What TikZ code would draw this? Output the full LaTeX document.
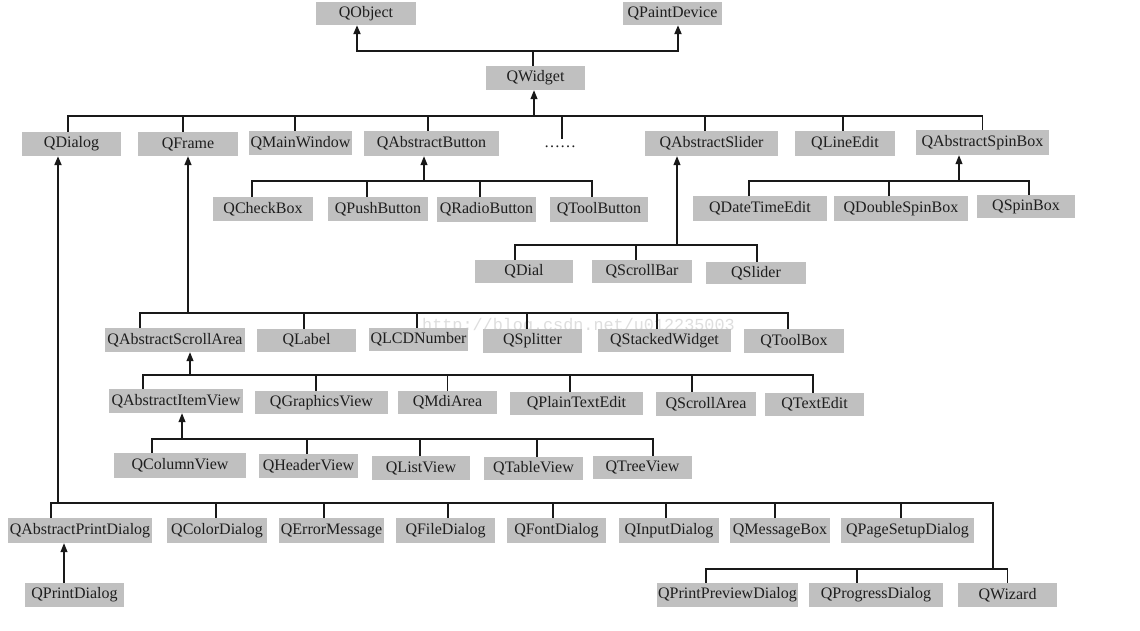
\documentclass[tikz,border=0pt]{standalone}
\usepackage{fontspec}
\setmainfont{Liberation Serif}
\newfontfamily\wmfont{Liberation Mono}
\usetikzlibrary{arrows.meta}
\definecolor{boxgray}{RGB}{192,192,192}
\definecolor{txt}{RGB}{30,30,30}
\definecolor{wmcol}{RGB}{222,222,222}
\definecolor{lnk}{RGB}{25,25,25}
\tikzset{
  qb/.style={fill=boxgray, inner sep=0pt, text=txt, font=\fontsize{16}{19}\selectfont},
  dotsn/.style={inner sep=0pt, text=txt, font=\fontsize{16}{19}\selectfont},
  link/.style={line width=1.1pt, draw=lnk},
  thk/.style={line width=2pt},
  arr/.style={link, -{Triangle[length=9pt,width=7pt]}},
}
\newcommand\qbox[6]{\node[qb, minimum width={#4-#2}, minimum height={#5-#3}] (#1) at ({(#2+#4)/2},{(#3+#5)/2}) {#6};}
\newcommand\leg[3]{\draw[link] ([xshift=#2]#1.north) |- (#3);}
\begin{document}
\begin{tikzpicture}[x=1pt,y=-1pt]
\fill[white] (0,0) rectangle (1140,630);
\useasboundingbox (0,0) rectangle (1140,630);
% watermark
\node[font=\wmfont\fontsize{16.8}{18}\selectfont, text=wmcol, anchor=base west, inner sep=0pt] (wm) at (422,330) {http://blog.csdn.net/u012235003};
% row 0
\qbox{QObject}{316}{2}{416}{25}{QObject}
\qbox{QPaintDevice}{623}{2}{722}{25}{QPaintDevice}
\qbox{QWidget}{486}{66}{585}{90}{QWidget}
% row 1
\qbox{QDialog}{22}{132}{121}{156}{QDialog}
\qbox{QFrame}{138}{132}{238}{156}{QFrame}
\qbox{QMainWindow}{249}{131}{352}{155}{QMainWindow}
\qbox{QAbstractButton}{364}{131}{499}{156}{QAbstractButton}
\node[dotsn, minimum height=16] (dots) at (560,147) {……};
\qbox{QAbstractSlider}{645}{131}{778}{156}{QAbstractSlider}
\qbox{QLineEdit}{795}{131}{895}{156}{QLineEdit}
\qbox{QAbstractSpinBox}{916}{130}{1049}{155}{QAbstractSpinBox}
% row 2
\qbox{QCheckBox}{213}{197}{313}{221}{QCheckBox}
\qbox{QPushButton}{328}{197}{428}{221}{QPushButton}
\qbox{QRadioButton}{437}{197}{536}{222}{QRadioButton}
\qbox{QToolButton}{550}{197}{648}{222}{QToolButton}
\qbox{QDateTimeEdit}{693}{196}{827}{221}{QDateTimeEdit}
\qbox{QDoubleSpinBox}{834}{196}{968}{221}{QDoubleSpinBox}
\qbox{QSpinBox}{977}{195}{1075}{218}{QSpinBox}
% row 3
\qbox{QDial}{475}{260}{573}{283}{QDial}
\qbox{QScrollBar}{592}{260}{692}{283}{QScrollBar}
\qbox{QSlider}{706}{262}{806}{284}{QSlider}
% row 4
\qbox{QAbstractScrollArea}{105}{328}{245}{352}{QAbstractScrollArea}
\qbox{QLabel}{257}{329}{356}{352}{QLabel}
\qbox{QLCDNumber}{369}{328}{468}{351}{QLCDNumber}
\qbox{QSplitter}{483}{329}{582}{353}{QSplitter}
\qbox{QStackedWidget}{598}{329}{731}{352}{QStackedWidget}
\qbox{QToolBox}{744}{329}{844}{353}{QToolBox}
% row 5
\qbox{QAbstractItemView}{109}{389}{243}{413}{QAbstractItemView}
\qbox{QGraphicsView}{255}{391}{388}{414}{QGraphicsView}
\qbox{QMdiArea}{398}{391}{497}{414}{QMdiArea}
\qbox{QPlainTextEdit}{510}{392}{643}{415}{QPlainTextEdit}
\qbox{QScrollArea}{656}{392}{756}{416}{QScrollArea}
\qbox{QTextEdit}{765}{393}{864}{416}{QTextEdit}
% row 6
\qbox{QColumnView}{114}{453}{246}{478}{QColumnView}
\qbox{QHeaderView}{259}{454}{358}{478}{QHeaderView}
\qbox{QListView}{372}{456}{470}{480}{QListView}
\qbox{QTableView}{484}{457}{583}{480}{QTableView}
\qbox{QTreeView}{593}{456}{692}{479}{QTreeView}
% row 7
\qbox{QAbstractPrintDialog}{8}{518}{152}{543}{QAbstractPrintDialog}
\qbox{QColorDialog}{167}{518}{267}{543}{QColorDialog}
\qbox{QErrorMessage}{279}{518}{384}{543}{QErrorMessage}
\qbox{QFileDialog}{396}{518}{495}{543}{QFileDialog}
\qbox{QFontDialog}{507}{518}{606}{543}{QFontDialog}
\qbox{QInputDialog}{619}{518}{719}{543}{QInputDialog}
\qbox{QMessageBox}{730}{518}{830}{543}{QMessageBox}
\qbox{QPageSetupDialog}{841}{518}{974}{543}{QPageSetupDialog}
% row 8
\qbox{QPrintDialog}{25}{583}{124}{607}{QPrintDialog}
\qbox{QPrintPreviewDialog}{657}{583}{798}{607}{QPrintPreviewDialog}
\qbox{QProgressDialog}{809}{583}{943}{607}{QProgressDialog}
\qbox{QWizard}{958}{583}{1057}{607}{QWizard}

% ---- connectors ----
\coordinate (busT) at (533,51);
\draw[link,thk] (QWidget.north -| busT) -- (busT);
\draw[arr,thk] (busT) -| ([xshift=-9]QObject.south);
\draw[arr,thk] (busT) -| ([xshift=5.5]QPaintDevice.south);

\coordinate (busW) at (534,116);
\leg{QDialog}{-3.5}{busW}
\leg{QFrame}{-5}{busW}
\leg{QMainWindow}{-5.5}{busW}
\leg{QAbstractButton}{-3.5}{busW}
\leg{dots}{2}{busW}
\leg{QAbstractSlider}{-6.5}{busW}
\leg{QLineEdit}{-2}{busW}
\leg{QAbstractSpinBox}{0}{busW}
\draw[arr] (busW) -- (busW |- QWidget.south);

\coordinate (busB) at (424,181);
\leg{QCheckBox}{-11}{busB}
\leg{QPushButton}{-11}{busB}
\leg{QRadioButton}{-6.5}{busB}
\leg{QToolButton}{-7}{busB}
\draw[arr] (busB) -- (busB |- QAbstractButton.south);

\coordinate (busS) at (959,181);
\leg{QDateTimeEdit}{-11}{busS}
\draw[link,thk] ([xshift=-12]QDoubleSpinBox.north) |- (busS);
\leg{QSpinBox}{3}{busS}
\draw[arr] (busS) -- (busS |- QAbstractSpinBox.south);

\coordinate (busL) at (677,245);
\leg{QDial}{-9}{busL}
\leg{QScrollBar}{-6}{busL}
\leg{QSlider}{1}{busL}
\draw[arr] (busL) -- (busL |- QAbstractSlider.south);

\coordinate (busF) at (188,313);
\leg{QAbstractScrollArea}{-35}{busF}
\leg{QLabel}{-2.5}{busF}
\leg{QLCDNumber}{-1.5}{busF}
\leg{QSplitter}{-5.5}{busF}
\leg{QStackedWidget}{-7.5}{busF}
\leg{QToolBox}{-6}{busF}
\draw[arr, line width=1.6pt] (busF) -- (busF |- QFrame.south);

\coordinate (busA) at (190,375);
\leg{QAbstractItemView}{-33}{busA}
\leg{QGraphicsView}{-5.5}{busA}
\leg{QMdiArea}{0}{busA}
\leg{QPlainTextEdit}{-6.5}{busA}
\leg{QScrollArea}{-14}{busA}
\leg{QTextEdit}{-1.5}{busA}
\draw[arr] (busA) -- (busA |- QAbstractScrollArea.south);

\coordinate (busI) at (182,439);
\leg{QColumnView}{-28}{busI}
\leg{QHeaderView}{-1.5}{busI}
\leg{QListView}{-1}{busI}
\leg{QTableView}{3.5}{busI}
\leg{QTreeView}{10.5}{busI}
\draw[arr] (busI) -- (busI |- QAbstractItemView.south);

\coordinate (busD) at (58,503);
\coordinate (busD2) at (993,569);
\leg{QAbstractPrintDialog}{-29}{busD}
\leg{QColorDialog}{-1}{busD}
\leg{QErrorMessage}{-7.5}{busD}
\leg{QFileDialog}{2.5}{busD}
\leg{QFontDialog}{-3.5}{busD}
\leg{QInputDialog}{-3}{busD}
\leg{QMessageBox}{-5}{busD}
\leg{QPageSetupDialog}{-6.5}{busD}
\draw[link,thk] (busD2) |- (busD);
\leg{QPrintPreviewDialog}{-21.5}{busD2}
\leg{QProgressDialog}{-19}{busD2}
\leg{QWizard}{0}{busD2}
\draw[arr,thk] (busD) -- (busD |- QDialog.south);

\draw[arr] ([xshift=-10.5]QPrintDialog.north) -- ([xshift=-10.5]QPrintDialog.north |- QAbstractPrintDialog.south);
\end{tikzpicture}
\end{document}
